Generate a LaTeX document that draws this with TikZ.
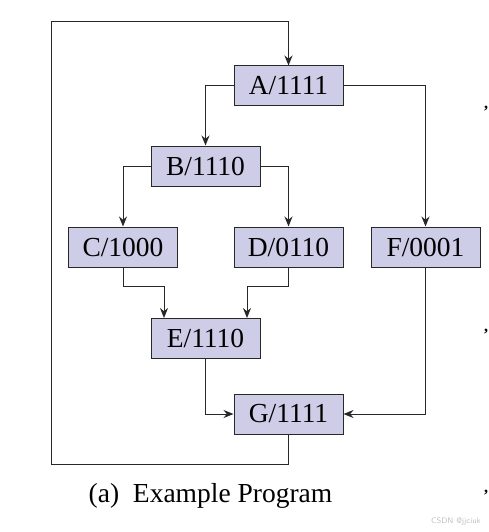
\documentclass[tikz,border=0pt]{standalone}
\usepackage{fontspec}
\setmainfont{Liberation Serif}
\usetikzlibrary{arrows.meta}
\definecolor{boxfill}{RGB}{206,205,232}
\definecolor{edge}{RGB}{40,40,40}
\begin{document}
\begin{tikzpicture}[x=1pt,y=-1pt,
  blk/.style={draw=edge,fill=boxfill,line width=1pt,minimum width=109pt,minimum height=40pt,inner sep=0pt,font=\fontsize{27.5}{32}\selectfont},
  conn/.style={draw=edge,line width=1pt,-{Stealth[length=10pt,width=8pt]}},
  edgemark/.style={font=\fontsize{16}{16}\selectfont\bfseries,inner sep=0pt}]
\useasboundingbox (0,0) rectangle (489,532);
\node[blk] (A) at (288.5,86) {A/1111};
\node[blk] (B) at (205.5,166) {B/1110};
\node[blk] (C) at (123,247) {C/1000};
\node[blk] (D) at (288.5,247) {D/0110};
\node[blk] (F) at (425.5,247) {F/0001};
\node[blk] (E) at (205.5,338) {E/1110};
\node[blk] (G) at (288.5,414) {G/1111};
\coordinate (eL) at (164,318);
\coordinate (eR) at (247,318);
\coordinate (loopA) at (51,464);
\coordinate (loopB) at (51,22);
\draw[conn] (A.west) -| (B.north);
\draw[conn] (A.east) -| (F.north);
\draw[conn] (B.west) -| (C.north);
\draw[conn] (B.east) -| (D.north);
\draw[conn] (C.south) |- (164,286.5) -- (eL);
\draw[conn] (D.south) |- (247,286.5) -- (eR);
\draw[conn] (E.south) |- (G.west);
\draw[conn] (F.south) |- (G.east);
\draw[conn] (G.south) |- (loopA) -- (loopB) -| (A.north);
\node[font=\fontsize{27.5}{32}\selectfont,anchor=base] (cap) at (210.5,502) {(a)\enspace Example Program};
\node[edgemark] (m1) at (486,109) {,};
\node[edgemark] (m2) at (486,332) {,};
\node[edgemark] (m3) at (486,493) {,};
\node[font=\sffamily\fontsize{8}{8}\selectfont,text=black!25,inner sep=0pt] (wm) at (456,521) {CSDN @jjciuk};
\end{tikzpicture}
\end{document}
